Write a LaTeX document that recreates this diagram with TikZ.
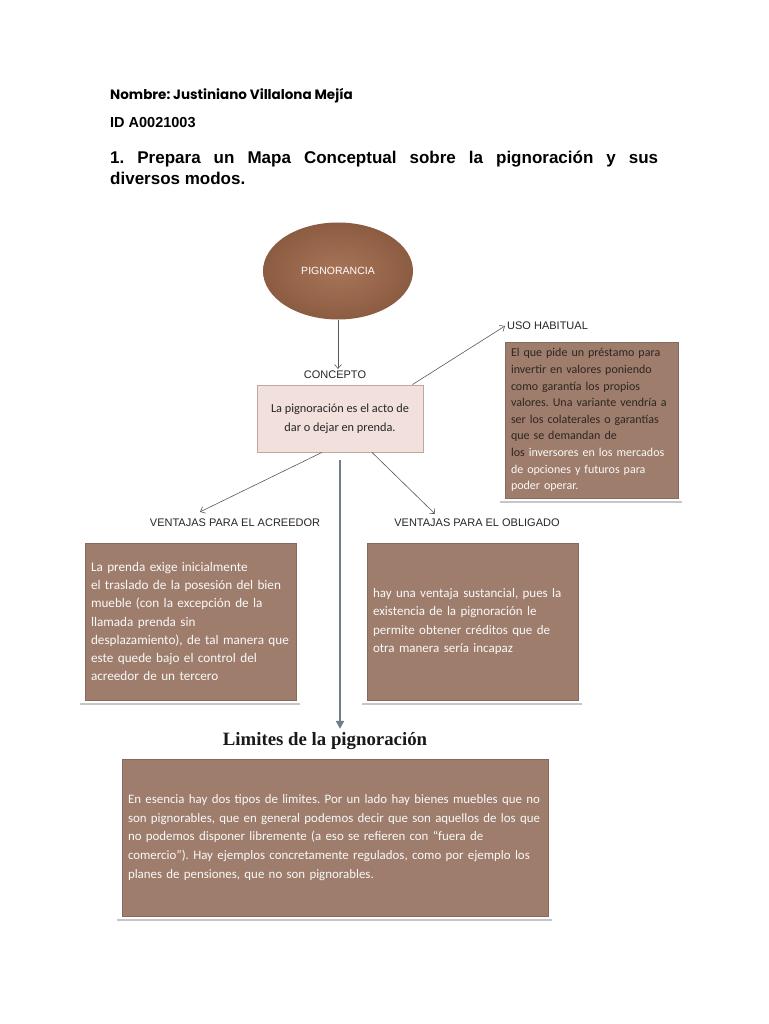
\documentclass[tikz,border=0pt]{standalone}
\usepackage{fontspec}
\setmainfont{Carlito}
\newfontfamily\arialf{Liberation Sans}
\newfontfamily\nombref{Poppins}
\newfontfamily\seriff{Liberation Serif}
\usetikzlibrary{arrows.meta,shapes.geometric}
\definecolor{cafe}{HTML}{9E7D6D}
\definecolor{cafeosc}{HTML}{2E2620}
\definecolor{elipsein}{HTML}{A77458}
\definecolor{elipseout}{HTML}{8C5C42}
\definecolor{rosa}{HTML}{F2E0DC}
\definecolor{rosaborde}{HTML}{BFA7A0}
\definecolor{tronco}{HTML}{6F7E8C}
\newcommand{\tam}[2]{\fontsize{#1}{#2}\selectfont}
\frenchspacing
\tikzset{pin/.style={draw=gray!70!black, line width=0.6pt, -{Straight Barb[length=4pt,width=7pt]}},
  lbl/.style={font=\arialf\tam{11}{13}, text=black!85, inner sep=2pt},
  brownbox/.style={fill=cafe, draw=cafe!85!black, line width=0.4pt, align=left, inner xsep=6pt, text=white!95!cafe},
  reflect/.style={draw=gray!45, line width=1.6pt}}

\begin{document}
\begin{tikzpicture}[x=1pt, y=-1pt]
  \useasboundingbox[fill=white] (0,0) rectangle (768,1024);
  % header
  \node[anchor=base west, inner sep=0, font=\nombref\bfseries\tam{13.5}{15}] (nombre) at (110,100) {Nombre: Justiniano Villalona Mejía};
  \node[anchor=base west, inner sep=0, font=\arialf\bfseries\tam{14.5}{16}] (ident) at (110,127.7) {ID A0021003};
  \node[anchor=base west, inner sep=0, font=\arialf\bfseries\tam{17}{21}] (titulo) at (110,163.3)
    {\makebox[548pt][s]{1. Prepara un Mapa Conceptual sobre la pignoración y sus}};
  \node[anchor=base west, inner sep=0, font=\arialf\bfseries\tam{17}{21}] (titulo2) at (110,185) {diversos modos.};
  % top of the map
  \node[ellipse, minimum width=150pt, minimum height=97pt, inner color=elipsein, outer color=elipseout,
    font=\arialf\tam{10.5}{12}, text=white] (pig) at (338,271) {PIGNORANCIA};
  \node[lbl] (concepto) at (335,375) {CONCEPTO};
  \draw[pin] (pig.south) -- (pig.south |- concepto.north);
  \node[fill=rosa, draw=rosaborde, line width=0.8pt, minimum width=166pt, minimum height=67pt, align=center,
    font=\tam{12.3}{19}, text=black!85] (concept) at (340,418.5) {La pignoración es el acto de\\dar o dejar en prenda.};
  % uso habitual
  \node[lbl, anchor=west] (usolbl) at (505,326) {USO HABITUAL};
  \draw[pin] ([xshift=-11pt]concept.north east) -- (usolbl.west);
  \node[brownbox, minimum width=173pt, minimum height=156pt, text width=161pt, font=\tam{12}{16.6}] (uso) at (591.5,420)
    {\textcolor{cafeosc}{El que pide un préstamo para\\invertir en valores poniendo\\como garantía los propios\\valores. Una variante vendría a\\ser los colaterales o garantías\\que se demandan de\\los} inversores en los mercados\\de opciones y futuros para\\poder operar.};
  % ventajas
  \node[lbl] (acrlbl) at (235,523) {VENTAJAS PARA EL ACREEDOR};
  \node[lbl] (obllbl) at (477,523) {VENTAJAS PARA EL OBLIGADO};
  \draw[pin] ([xshift=-18pt]concept.south) -- ([xshift=-35pt,yshift=5pt]acrlbl.north);
  \draw[pin] ([xshift=32pt]concept.south) -- ([xshift=-42pt,yshift=3pt]obllbl.north);
  \node[brownbox, minimum width=211pt, minimum height=157pt, text width=199pt, font=\tam{13.2}{18.2}] (acr) at (190.5,621.5)
    {La prenda exige inicialmente\\el traslado de la posesión del bien\\mueble (con la excepción de la\\llamada prenda sin\\desplazamiento), de tal manera que\\este quede bajo el control del\\acreedor de un tercero};
  \node[brownbox, minimum width=211pt, minimum height=157pt, text width=199pt, font=\tam{13}{18.3}] (obl) at (472.5,621.5)
    {hay una ventaja sustancial, pues la\\existencia de la pignoración le\\permite obtener créditos que de\\otra manera sería incapaz};
  % limites
  \node[font=\seriff\bfseries\tam{18.8}{20}, text=black!90] (limlbl) at (325,741) {Limites de la pignoración};
  \draw[tronco, line width=2.2pt, -{Triangle[length=8pt,width=8pt]}] ([yshift=-8pt]concept.south) -- (concept.south |- limlbl.north);
  \node[brownbox, minimum width=426pt, minimum height=157pt, text width=414pt, font=\tam{12.9}{18.7}] (lim) at (335,837.5)
    {En esencia hay dos tipos de limites. Por un lado hay bienes muebles que no\\son pignorables, que en general podemos decir que son aquellos de los que\\no podemos disponer libremente (a eso se refieren con “fuera de\\comercio”). Hay ejemplos concretamente regulados, como por ejemplo los\\planes de pensiones, que no son pignorables.};
  % shadows under the boxes
  \foreach \b in {uso,acr,obl,lim}{
    \draw[reflect] ([xshift=-5pt,yshift=-4pt]\b.south west) -- ([xshift=4pt,yshift=-4pt]\b.south east);}
\end{tikzpicture}
\end{document}
